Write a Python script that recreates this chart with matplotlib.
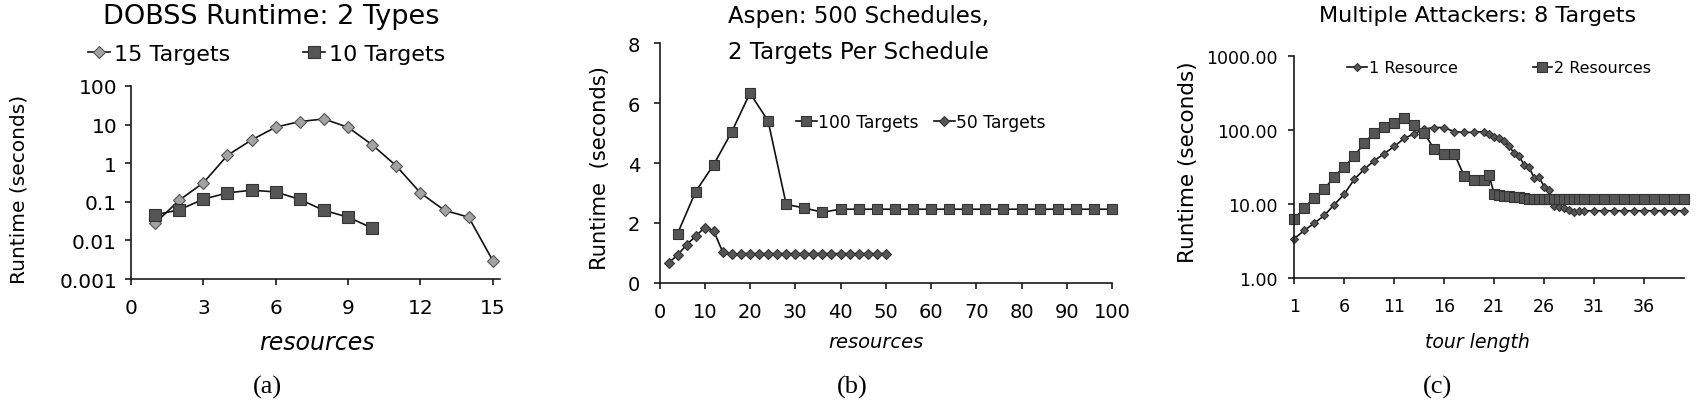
import matplotlib
matplotlib.use("Agg")
import matplotlib.pyplot as plt

plt.rcParams['font.family'] = ['DejaVu Sans']

# (a) DOBSS runtime, 2 types
a_x15 = list(range(1, 16))
a_y15 = [0.028, 0.11, 0.31, 1.6, 4.0, 8.6, 12, 14, 8.5, 3.0, 0.85, 0.17, 0.06, 0.04, 0.003]
a_x10 = list(range(1, 11))
a_y10 = [0.046, 0.062, 0.117, 0.17, 0.2, 0.18, 0.115, 0.06, 0.04, 0.021]

# (b) Aspen
b_x100 = list(range(4, 101, 4))
b_y100 = [1.65, 3.05, 3.95, 5.05, 6.33, 5.4, 2.62, 2.5, 2.36, 2.46, 2.46, 2.46, 2.46,
          2.46, 2.46, 2.46, 2.46, 2.46, 2.46, 2.46, 2.46, 2.46, 2.46, 2.46, 2.46]
b_x50 = list(range(2, 51, 2))
b_y50 = [0.67, 0.93, 1.28, 1.56, 1.85, 1.73, 1.02, 0.96, 0.98, 0.98, 0.98, 0.98, 0.98,
         0.98, 0.98, 0.98, 0.98, 0.98, 0.98, 0.98, 0.98, 0.98, 0.98, 0.98, 0.98]

# (c) multiple attackers
c_x = ([1, 2, 3, 4, 5, 6, 7, 8, 9, 10, 11, 12, 13, 14, 15, 16, 17, 18, 19, 20]
       + [20.5, 21, 21.5, 22, 22.5, 23, 23.5, 24, 24.5, 25, 25.5, 26, 26.5, 27, 27.5,
          28, 28.5, 29, 29.5, 30]
       + [31, 32, 33, 34, 35, 36, 37, 38, 39, 40])
c_y1 = ([3.4, 4.4, 5.5, 7.0, 9.8, 13.6, 21.5, 29.5, 38.5, 48, 60, 77, 89, 103, 108, 108,
         95, 93, 93, 95]
        + [87, 81, 77, 71, 60, 49, 44, 34, 31.6, 22.4, 23, 17.2, 15.5, 9.5, 9.2,
           8.8, 8.4, 7.9, 8.0, 8.1]
        + [8.1, 8.1, 8.1, 8.1, 8.1, 8.1, 8.1, 8.1, 8.1, 8.1])
c_y2 = ([6.3, 8.8, 12.2, 15.8, 23.5, 31.8, 44, 67, 91, 110, 123, 144, 116, 91, 55, 48,
         48, 24, 21, 21.3]
        + [24.3, 13.7, 13.4, 13.0, 13.0, 12.6, 12.4, 12.0, 11.8, 11.7, 11.7, 11.7, 11.7,
           11.7, 11.7, 11.7, 11.7, 11.7, 11.7, 11.7]
        + [11.8, 11.8, 11.8, 11.8, 11.8, 11.8, 11.8, 11.8, 11.8, 11.8])

W, H = 1697, 402
fig = plt.figure(figsize=(W / 100, H / 100), dpi=100)


def box(x0, y0, x1, y1):
    # pixel box (top-left origin) -> figure fraction
    return [x0 / W, 1 - y1 / H, (x1 - x0) / W, (y1 - y0) / H]


def fx(x):
    return x / W


def fy(y):
    return 1 - y / H


def style(ax, ypad, xpad=10):
    for s in ['top', 'right']:
        ax.spines[s].set_visible(False)
    for s in ['left', 'bottom']:
        ax.spines[s].set_linewidth(1.2)
        ax.spines[s].set_color('#1a1a1a')
    ax.tick_params(direction='out', length=4, width=1.2, color='#1a1a1a')
    ax.tick_params(axis='y', pad=ypad)
    ax.tick_params(axis='x', pad=xpad)
    ax.minorticks_off()


def label(x, y, s, size, **kw):
    fig.text(fx(x), fy(y), s, fontsize=size, ha='center', va='center', **kw)


dark = '#555555'
edge = '#333333'

# ---- (a)
ax1 = fig.add_axes(box(131, 87, 500, 280))
ax1.plot(a_x15, a_y15, color='#111111', lw=1.2, marker='D', ms=6.5,
         mfc='#a3a3a3', mec='#555555', mew=0.8, label='15 Targets', clip_on=False)
ax1.plot(a_x10, a_y10, color='#111111', lw=1.2, marker='s', ms=8.5,
         mfc=dark, mec=edge, mew=0.8, label='10 Targets', clip_on=False)
ax1.set_yscale('log')
ax1.set_xlim(0, 15.3)
ax1.set_ylim(0.001, 100)
style(ax1, 6)
ax1.set_xticks([0, 3, 6, 9, 12, 15])
ax1.set_yticks([0.001, 0.01, 0.1, 1, 10, 100])
ax1.set_yticklabels(['0.001', '0.01', '0.1', '1', '10', '100'])
ax1.minorticks_off()
ax1.tick_params(labelsize=14.5)
ax1.legend(loc='center left', bbox_to_anchor=(fx(88), fy(55)),
           bbox_transform=fig.transFigure, ncol=2, frameon=False, fontsize=16,
           handlelength=1.0, handletextpad=0.15, columnspacing=3.3,
           borderpad=0, borderaxespad=0)
label(271, 17, 'DOBSS Runtime: 2 Types', 19.5)
label(19, 189, 'Runtime (seconds)', 14.5, rotation=90)
label(317, 343, 'resources', 17, style='italic')
label(267, 387, '(a)', 19, family='Liberation Serif')

# ---- (b)
ax2 = fig.add_axes(box(659.5, 44, 1112, 284))
ax2.plot(b_x100, b_y100, color='#111111', lw=1.2, marker='s', ms=7,
         mfc=dark, mec=edge, mew=0.8, label='100 Targets', clip_on=False)
ax2.plot(b_x50, b_y50, color='#111111', lw=1.2, marker='D', ms=4.6,
         mfc=dark, mec=edge, mew=0.8, label='50 Targets', clip_on=False)
ax2.set_xlim(0, 100)
ax2.set_ylim(0, 8)
style(ax2, 10)
ax2.set_xticks(range(0, 101, 10))
ax2.set_yticks([0, 2, 4, 6, 8])
ax2.tick_params(labelsize=14)
ax2.legend(loc='center left', bbox_to_anchor=(fx(796), fy(123)),
           bbox_transform=fig.transFigure, ncol=2, frameon=False, fontsize=12.3,
           handlelength=1.2, handletextpad=0.1, columnspacing=0.9,
           borderpad=0, borderaxespad=0)
label(858, 16, 'Aspen: 500 Schedules,', 16.5)
label(858, 53, '2 Targets Per Schedule', 16.5)
label(600, 168, 'Runtime  (seconds)', 15.2, rotation=90)
label(876, 343, 'resources', 14, style='italic')
label(852, 387, '(b)', 19, family='Liberation Serif')

# ---- (c)
ax3 = fig.add_axes(box(1294.3, 57, 1684, 279))
ax3.plot(c_x, c_y1, color='#111111', lw=1.2, marker='D', ms=4.2,
         mfc=dark, mec=edge, mew=0.8, label='1 Resource', clip_on=False)
ax3.plot(c_x, c_y2, color='#111111', lw=1.2, marker='s', ms=7,
         mfc=dark, mec=edge, mew=0.8, label='2 Resources', clip_on=False)
ax3.set_yscale('log')
ax3.set_xlim(1, 40)
ax3.set_ylim(1, 1000)
style(ax3, 8)
ax3.set_xticks(range(1, 37, 5))
ax3.set_yticks([1, 10, 100, 1000])
ax3.set_yticklabels(['1.00', '10.00', '100.00', '1000.00'])
ax3.minorticks_off()
ax3.tick_params(labelsize=12.5)
ax3.legend(loc='center left', bbox_to_anchor=(fx(1347), fy(69)),
           bbox_transform=fig.transFigure, ncol=2, frameon=False, fontsize=11.5,
           handlelength=1.25, handletextpad=0.1, columnspacing=4.7,
           borderpad=0, borderaxespad=0)
label(1478, 16, 'Multiple Attackers: 8 Targets', 16)
label(1188, 162, 'Runtime (seconds)', 15.5, rotation=90)
label(1477, 343, 'tour length', 13.6, style='italic')
label(1438, 387, '(c)', 19, family='Liberation Serif')

fig.savefig('out.png', dpi=100)
